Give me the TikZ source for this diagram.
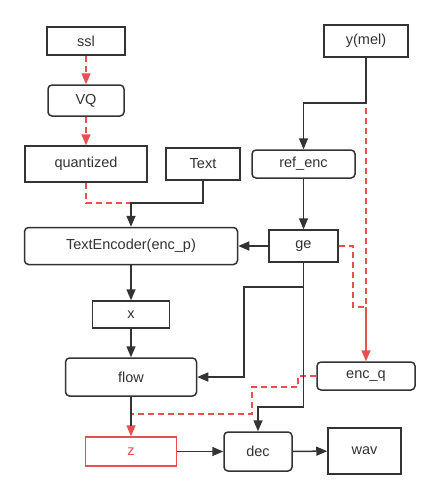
\documentclass[tikz,border=0pt]{standalone}
\usepackage{fontspec}
\setmainfont{Liberation Sans}
\usetikzlibrary{arrows.meta}
\definecolor{ink}{RGB}{51,51,51}
\definecolor{rd}{RGB}{232,80,80}
\tikzset{
  box/.style={draw=ink, line width=1.5pt, text=ink, inner sep=0pt, font=\fontsize{14.5}{16}\selectfont},
  rbox/.style={box, rounded corners=4pt},
  redbox/.style={box, draw=rd, text=rd},
  conn/.style={draw=ink, line width=1.5pt, -{Triangle[length=11pt,width=9pt]}},
  plain/.style={draw=ink, line width=1.5pt},
  rconn/.style={draw=rd, line width=1.5pt, dash pattern=on 6pt off 4pt, -{Triangle[length=11pt,width=9pt]}},
  rplain/.style={draw=rd, line width=1.5pt, dash pattern=on 6pt off 4pt},
}
\begin{document}
\begin{tikzpicture}[x=1pt,y=-1pt]
\useasboundingbox (0,0) rectangle (439,499);
\fill[white] (0,0) rectangle (439,499);
\node[box, minimum width=78pt, minimum height=28pt] (ssl) at (86,41) {ssl};
\node[rbox, minimum width=76pt, minimum height=31pt] (vq) at (86,100.5) {VQ};
\node[box, minimum width=122pt, minimum height=36pt] (quant) at (86,164) {quantized};
\node[box, minimum width=74pt, minimum height=32pt] (text) at (203,164) {Text};
\node[box, minimum width=84pt, minimum height=32pt] (ymel) at (366,41) {y(mel)};
\node[rbox, minimum width=103pt, minimum height=28pt] (ref) at (303.5,164) {ref\_enc};
\node[box, minimum width=69pt, minimum height=32pt] (ge) at (303.5,246) {ge};
\node[rbox, minimum width=213pt, minimum height=37pt] (tenc) at (131,246) {TextEncoder(enc\_p)};
\node[box, minimum width=77pt, minimum height=27pt] (x) at (131,314.5) {x};
\node[rbox, minimum width=131pt, minimum height=38pt] (flow) at (131,377) {flow};
\node[rbox, minimum width=98pt, minimum height=28pt] (encq) at (366,376) {enc\_q};
\node[redbox, minimum width=91pt, minimum height=29pt] (z) at (131,451.5) {z};
\node[rbox, minimum width=68pt, minimum height=39pt] (dec) at (258,451.5) {dec};
\node[box, minimum width=73pt, minimum height=46pt] (wav) at (364.5,451) {wav};

\coordinate (j1) at (131,203);
\coordinate (j2) at (303.5,103);
\coordinate (j3) at (366,307);
\coordinate (j4) at (353,307);
\coordinate (j5) at (244,287);
\coordinate (j6) at (303.5,407);
\coordinate (k1) at (298,387);
\coordinate (k2) at (252,414);

% red dashed links
\draw[rconn] (ssl) -- (vq);
\draw[rconn] (vq) -- (quant);
\draw[rplain] (quant.south) |- (j1);
\draw[rplain] (ymel.south) -- (j3);
\draw[rplain] (ge.east) -| (j4) -- (j3);
\draw[draw=rd, line width=1.5pt, -{Triangle[length=11pt,width=9pt]}] (j3) -- (encq.north);
\draw[rconn] (encq.west) -| (k1) -| (k2) -| (z.north);
\coordinate (zin) at ([yshift=10pt]z.north);
\draw[plain] (flow.south) -- (zin);

% black links
\draw[conn] (text.south) |- (j1) -- (tenc.north);
\draw[conn] (ymel.south) |- (j2) -- (ref.north);
\draw[conn] (ref) -- (ge);
\draw[conn] (ge) -- (tenc);
\draw[conn] (tenc) -- (x);
\draw[conn] (x) -- (flow);
\draw[conn] (ge.south) |- (j5) |- (flow.east);
\draw[conn] (ge.south) -- (j6) -| (dec.north);
\draw[conn] (z) -- (dec);
\draw[conn] (dec) -- (wav);
\end{tikzpicture}
\end{document}
